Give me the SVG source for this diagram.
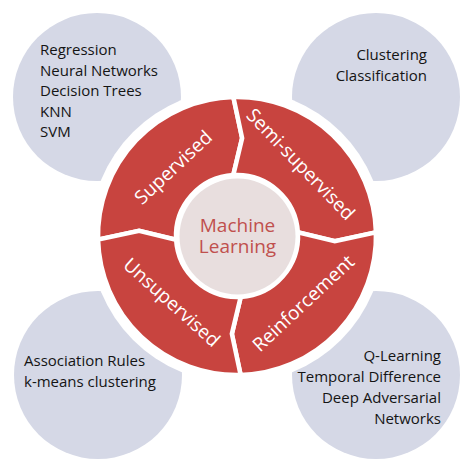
<svg xmlns="http://www.w3.org/2000/svg" width="474" height="472" viewBox="0 0 474 472">
<style>
.sat{fill:#d5d8e6}
.seg{fill:#c8443f;stroke:#ffffff;stroke-width:4.5;stroke-linejoin:miter}
.st{font-family:"Open Sans","Liberation Sans",sans-serif;font-size:15px;fill:#141414}
.sl{font-family:"Open Sans","Liberation Sans",sans-serif;font-size:19px;fill:#ffffff;text-anchor:middle}
.ct{font-family:"Open Sans","Liberation Sans",sans-serif;font-size:19px;fill:#c0504d;text-anchor:middle}
</style>
<rect width="474" height="472" fill="#ffffff"/>
<g id="sat-supervised">
<circle class="sat" cx="97" cy="97" r="84"/>
<text class="st" x="40"><tspan x="40" y="55">Regression</tspan><tspan x="40" y="75.5">Neural Networks</tspan><tspan x="40" y="96">Decision Trees</tspan><tspan x="40" y="116.5">KNN</tspan><tspan x="40" y="137">SVM</tspan></text>
</g>
<g id="sat-semi">
<circle class="sat" cx="376" cy="97" r="84"/>
<text class="st" text-anchor="end"><tspan x="427" y="60">Clustering</tspan><tspan x="427" y="81">Classification</tspan></text>
</g>
<g id="sat-unsupervised">
<circle class="sat" cx="98" cy="375" r="84"/>
<text class="st"><tspan x="24" y="366">Association Rules</tspan><tspan x="24" y="386.5">k-means clustering</tspan></text>
</g>
<g id="sat-reinforcement">
<circle class="sat" cx="376" cy="375" r="84"/>
<text class="st" text-anchor="end"><tspan x="441" y="361">Q-Learning</tspan><tspan x="441" y="382">Temporal Difference</tspan><tspan x="441" y="403">Deep Adversarial</tspan><tspan x="441" y="423.5">Networks</tspan></text>
</g>
<circle id="halo" cx="237" cy="236" r="147" fill="#ffffff"/>
<g id="seg-supervised">
<path class="seg" d="M98.05 239.64 A139 139 0 0 1 233.36 97.05 L242.13 138.13 L233.28 175.11 A61 61 0 0 0 176.11 239.72 L139.13 230.87 Z"/>
<text class="sl" transform="translate(173 167) rotate(-43)" y="7">Supervised</text>
</g>
<g id="seg-semi">
<path class="seg" d="M233.36 97.05 A139 139 0 0 1 375.95 232.36 L334.87 241.13 L297.89 232.28 A61 61 0 0 0 233.28 175.11 L242.13 138.13 Z"/>
<text class="sl" transform="translate(301 164) rotate(46)" y="7">Semi-supervised</text>
</g>
<g id="seg-reinforcement">
<path class="seg" d="M375.95 232.36 A139 139 0 0 1 240.64 374.95 L231.87 333.87 L240.72 296.89 A61 61 0 0 0 297.89 232.28 L334.87 241.13 Z"/>
<text class="sl" transform="translate(303 303) rotate(-43)" y="7">Reinforcement</text>
</g>
<g id="seg-unsupervised">
<path class="seg" d="M240.64 374.95 A139 139 0 0 1 98.05 239.64 L139.13 230.87 L176.11 239.72 A61 61 0 0 0 240.72 296.89 L231.87 333.87 Z"/>
<text class="sl" transform="translate(172 302) rotate(42)" y="7">Unsupervised</text>
</g>
<g id="center">
<circle cx="237.5" cy="236.5" r="58" fill="#e8dede"/>
<text class="ct"><tspan x="237.5" y="232">Machine</tspan><tspan x="237.5" y="253">Learning</tspan></text>
</g>
<g id="connectors"/>
</svg>
